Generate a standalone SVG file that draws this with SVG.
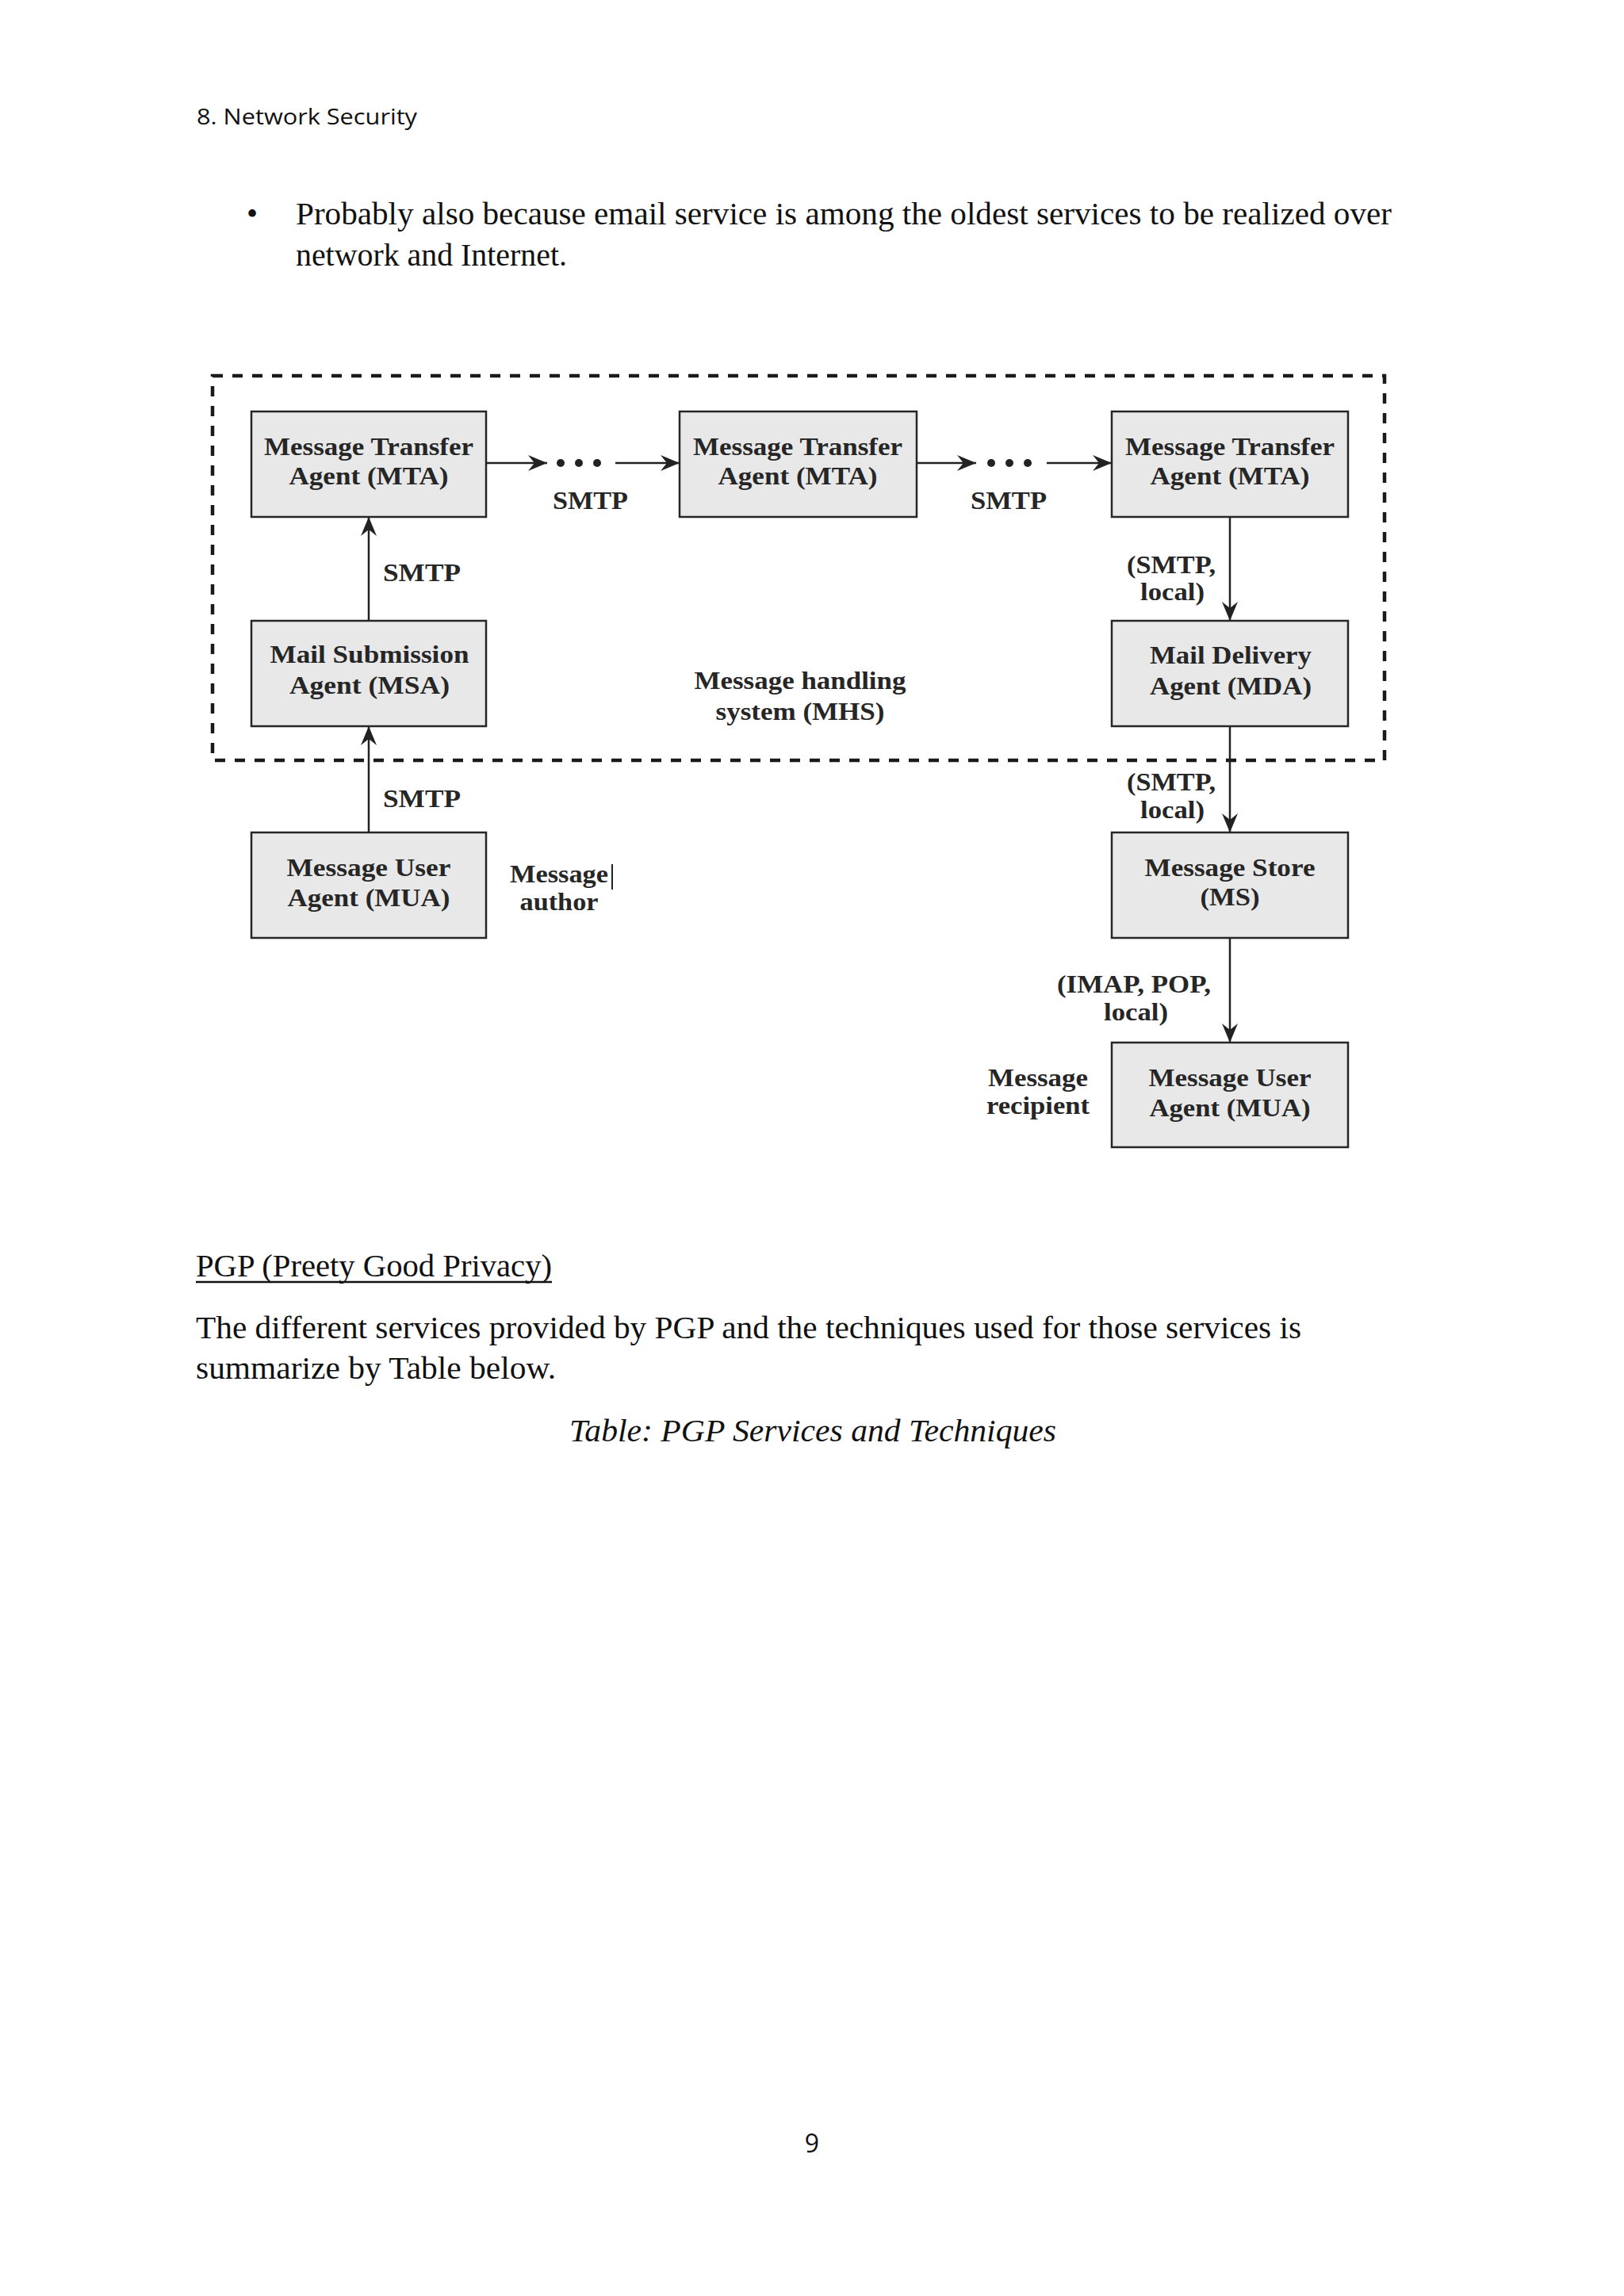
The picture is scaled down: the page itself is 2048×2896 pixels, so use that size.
<svg xmlns="http://www.w3.org/2000/svg" width="2048" height="2896" viewBox="0 0 2048 2896">
<style>
.page{font-family:"Liberation Serif","Times New Roman",serif;font-size:40px;fill:#111}
.hdr{font-family:"Open Sans","Noto Sans",sans-serif;fill:#111}
.box{fill:#e8e8e8;stroke:#262626;stroke-width:2.5}
.bt{font-family:"Liberation Serif","Times New Roman",serif;font-weight:bold;font-size:31px;fill:#262626;text-anchor:middle}
.lbl{font-family:"Liberation Serif","Times New Roman",serif;font-weight:bold;font-size:31px;fill:#262626}
.conn{stroke:#222;stroke-width:2.5;fill:none}
.arr{marker-end:url(#ah)}
.dot{fill:#222}
</style>
<defs>
<marker id="ah" markerUnits="userSpaceOnUse" markerWidth="28" markerHeight="24" viewBox="-26 -12 28 24" refX="0" refY="0" orient="auto">
<path d="M0,0 L-24,-10 L-16,0 L-24,10 Z" fill="#222"/>
</marker>
</defs>
<rect width="2048" height="2896" fill="#ffffff"/>

<g id="page-text">
<text class="hdr" x="248" y="157" font-size="28" textLength="278" lengthAdjust="spacingAndGlyphs">8. Network Security</text>
<text class="page" x="311" y="283">•</text>
<text class="page" x="373" y="283" textLength="1382" lengthAdjust="spacingAndGlyphs">Probably also because email  service  is  among  the  oldest  services  to be realized  over</text>
<text class="page" x="373" y="335" textLength="342" lengthAdjust="spacingAndGlyphs">network  and  Internet.</text>
<text class="page" x="247" y="1610" textLength="449" lengthAdjust="spacingAndGlyphs">PGP (Preety  Good Privacy)</text>
<line x1="247" y1="1617" x2="696" y2="1617" stroke="#111" stroke-width="2.5"/>
<text class="page" x="247" y="1688" textLength="1394" lengthAdjust="spacingAndGlyphs">The  different  services  provided  by PGP and  the  techniques  used  for  those  services  is</text>
<text class="page" x="247" y="1739" textLength="454" lengthAdjust="spacingAndGlyphs">summarize  by Table  below.</text>
<text class="page" x="718" y="1818" font-style="italic" textLength="614" lengthAdjust="spacingAndGlyphs">Table: PGP Services and Techniques</text>
<text class="hdr" x="1024" y="2715" font-size="32" text-anchor="middle">9</text>
</g>

<g id="mhs-boundary">
<rect x="268" y="474" width="1478" height="485" fill="none" stroke="#1a1a1a" stroke-width="4.5" stroke-dasharray="13 12"/>
<text class="bt" x="1009" y="869" textLength="267" lengthAdjust="spacingAndGlyphs">Message handling</text>
<text class="bt" x="1009" y="908" textLength="213" lengthAdjust="spacingAndGlyphs">system (MHS)</text>
</g>

<g id="connectors">
<line class="conn arr" x1="613" y1="584" x2="690" y2="584"/>
<circle class="dot" cx="707" cy="584" r="5"/>
<circle class="dot" cx="730" cy="584" r="5"/>
<circle class="dot" cx="753" cy="584" r="5"/>
<line class="conn arr" x1="776" y1="584" x2="857" y2="584"/>
<line class="conn arr" x1="1156" y1="584" x2="1231" y2="584"/>
<circle class="dot" cx="1250" cy="584" r="5"/>
<circle class="dot" cx="1273" cy="584" r="5"/>
<circle class="dot" cx="1296" cy="584" r="5"/>
<line class="conn arr" x1="1320" y1="584" x2="1402" y2="584"/>
<line class="conn arr" x1="465" y1="783" x2="465" y2="652"/>
<line class="conn arr" x1="465" y1="1050" x2="465" y2="916"/>
<line class="conn arr" x1="1551" y1="652" x2="1551" y2="783"/>
<line class="conn arr" x1="1551" y1="916" x2="1551" y2="1050"/>
<line class="conn arr" x1="1551" y1="1183" x2="1551" y2="1315"/>
<text class="lbl" x="697" y="642" textLength="95" lengthAdjust="spacingAndGlyphs">SMTP</text>
<text class="lbl" x="1224" y="642" textLength="96" lengthAdjust="spacingAndGlyphs">SMTP</text>
<text class="lbl" x="483" y="733" textLength="98" lengthAdjust="spacingAndGlyphs">SMTP</text>
<text class="lbl" x="483" y="1018" textLength="98" lengthAdjust="spacingAndGlyphs">SMTP</text>
<text class="lbl" x="1421" y="723" textLength="112" lengthAdjust="spacingAndGlyphs">(SMTP,</text>
<text class="lbl" x="1438" y="757" textLength="81" lengthAdjust="spacingAndGlyphs">local)</text>
<text class="lbl" x="1421" y="997" textLength="112" lengthAdjust="spacingAndGlyphs">(SMTP,</text>
<text class="lbl" x="1438" y="1032" textLength="81" lengthAdjust="spacingAndGlyphs">local)</text>
<text class="lbl" x="1333" y="1252" textLength="194" lengthAdjust="spacingAndGlyphs">(IMAP, POP,</text>
<text class="lbl" x="1392" y="1287" textLength="81" lengthAdjust="spacingAndGlyphs">local)</text>
</g>

<g id="mta1">
<rect class="box" x="317" y="519" width="296" height="133"/>
<text class="bt" x="465" y="574" textLength="264" lengthAdjust="spacingAndGlyphs">Message Transfer</text>
<text class="bt" x="465" y="611" textLength="201" lengthAdjust="spacingAndGlyphs">Agent (MTA)</text>
</g>
<g id="mta2">
<rect class="box" x="857" y="519" width="299" height="133"/>
<text class="bt" x="1006" y="574" textLength="264" lengthAdjust="spacingAndGlyphs">Message Transfer</text>
<text class="bt" x="1006" y="611" textLength="201" lengthAdjust="spacingAndGlyphs">Agent (MTA)</text>
</g>
<g id="mta3">
<rect class="box" x="1402" y="519" width="298" height="133"/>
<text class="bt" x="1551" y="574" textLength="264" lengthAdjust="spacingAndGlyphs">Message Transfer</text>
<text class="bt" x="1551" y="611" textLength="201" lengthAdjust="spacingAndGlyphs">Agent (MTA)</text>
</g>
<g id="msa">
<rect class="box" x="317" y="783" width="296" height="133"/>
<text class="bt" x="466" y="836" textLength="251" lengthAdjust="spacingAndGlyphs">Mail Submission</text>
<text class="bt" x="466" y="875" textLength="202" lengthAdjust="spacingAndGlyphs">Agent (MSA)</text>
</g>
<g id="mda">
<rect class="box" x="1402" y="783" width="298" height="133"/>
<text class="bt" x="1552" y="837" textLength="204" lengthAdjust="spacingAndGlyphs">Mail Delivery</text>
<text class="bt" x="1552" y="876" textLength="204" lengthAdjust="spacingAndGlyphs">Agent (MDA)</text>
</g>
<g id="mua-author">
<rect class="box" x="317" y="1050" width="296" height="133"/>
<text class="bt" x="465" y="1105" textLength="207" lengthAdjust="spacingAndGlyphs">Message User</text>
<text class="bt" x="465" y="1143" textLength="205" lengthAdjust="spacingAndGlyphs">Agent (MUA)</text>
<text class="bt" x="705" y="1113" textLength="124" lengthAdjust="spacingAndGlyphs">Message</text>
<line x1="772" y1="1090" x2="772" y2="1122" stroke="#222" stroke-width="2"/>
<text class="bt" x="705" y="1148" textLength="99" lengthAdjust="spacingAndGlyphs">author</text>
</g>
<g id="ms">
<rect class="box" x="1402" y="1050" width="298" height="133"/>
<text class="bt" x="1551" y="1105" textLength="215" lengthAdjust="spacingAndGlyphs">Message Store</text>
<text class="bt" x="1551" y="1142" textLength="75" lengthAdjust="spacingAndGlyphs">(MS)</text>
</g>
<g id="mua-recipient">
<rect class="box" x="1402" y="1315" width="298" height="132"/>
<text class="bt" x="1551" y="1370" textLength="205" lengthAdjust="spacingAndGlyphs">Message User</text>
<text class="bt" x="1551" y="1408" textLength="203" lengthAdjust="spacingAndGlyphs">Agent (MUA)</text>
<text class="bt" x="1309" y="1370" textLength="126" lengthAdjust="spacingAndGlyphs">Message</text>
<text class="bt" x="1309" y="1405" textLength="130" lengthAdjust="spacingAndGlyphs">recipient</text>
</g>
</svg>
